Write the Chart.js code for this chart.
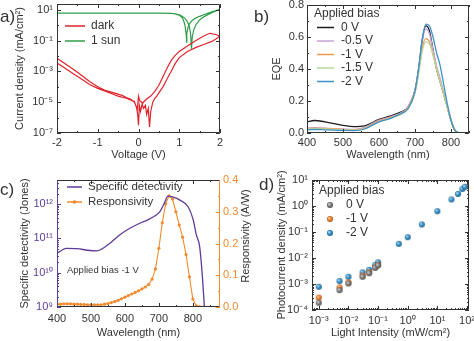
<!DOCTYPE html>
<html>
<head>
<meta charset="utf-8">
<script src="https://cdn.jsdelivr.net/npm/chart.js@4.4.0/dist/chart.umd.min.js"></script>
<style>
  html, body { margin: 0; padding: 0; background: #fff; }
  #wrap { position: relative; width: 474px; height: 341px; overflow: hidden; }
  canvas { position: absolute; }
</style>
</head>
<body>
<div id="wrap">
  <canvas id="cvA" width="237" height="170" style="left:0;top:0"></canvas>
  <canvas id="cvB" width="237" height="170" style="left:237px;top:0"></canvas>
  <canvas id="cvC" width="262" height="171" style="left:0;top:170px"></canvas>
  <canvas id="cvD" width="237" height="171" style="left:237px;top:170px"></canvas>
</div>
<script>
// ---- (a) J-V sweeps: forward branch then reverse branch, |J| in mA/cm2
const darkV = [-2.0, -1.8, -1.6, -1.4, -1.2, -1.0, -0.8, -0.6, -0.4, -0.3, -0.2, -0.1, -0.05, -0.02, 0.0,
  0.02, 0.05, 0.08, 0.12, 0.2, 0.3, 0.4, 0.5, 0.6, 0.7, 0.8, 0.9, 1.0, 1.2, 1.4, 1.6, 1.75, 1.9, 2.0,
  1.9, 1.8, 1.6, 1.4, 1.2, 1.0, 0.9, 0.8, 0.7, 0.6, 0.5, 0.45, 0.4, 0.35, 0.3, 0.27, 0.24, 0.2, 0.17,
  0.12, 0.08, 0.03, 0.0, -0.03, -0.1, -0.2, -0.3, -0.5, -0.7, -0.9, -1.0, -1.2, -1.4, -1.6, -1.8, -2.0];
const darkJ = [7.1e-3, 3.2e-3, 1.4e-3, 5.6e-4, 2.2e-4, 1.0e-4, 5.6e-5, 4.0e-5, 2.8e-5, 2.0e-5, 1.6e-5, 1.0e-5, 5.0e-6, 1.6e-6, 3.2e-7,
  6.3e-6, 2.5e-6, 6.3e-6, 1.0e-5, 1.6e-5, 2.5e-5, 5.0e-5, 1.26e-4, 4.5e-4, 1.6e-3, 5.0e-3, 1.1e-2, 2.0e-2, 4.5e-2, 0.1, 0.2, 0.3, 0.25, 0.19,
  0.126, 0.089, 0.056, 0.035, 0.02, 7.9e-3, 3.2e-3, 1.0e-3, 3.2e-4, 1.0e-4, 4.0e-5, 2.5e-5, 1.8e-5, 1.0e-5, 2.5e-6, 2.5e-7, 4.0e-6, 1.6e-6, 6.3e-6,
  4.0e-6, 1.0e-5, 1.26e-5, 2.5e-5, 3.2e-6, 1.1e-5, 1.4e-5, 1.8e-5, 2.5e-5, 4.0e-5, 6.3e-5, 7.9e-5, 1.4e-4, 3.2e-4, 7.1e-4, 1.6e-3, 3.5e-3];
const sunV = [-2, -1, 0, 0.5, 0.8, 0.9, 1.0, 1.06, 1.1, 1.14, 1.17, 1.18, 1.19, 1.22, 1.26, 1.32, 1.4, 1.5, 1.6, 1.7, 1.8, 1.9, 2.0,
  1.9, 1.8, 1.7, 1.6, 1.5, 1.42, 1.36, 1.32, 1.30, 1.28, 1.25, 1.2, 1.14, 1.06, 1.0, 0.9, 0.8, 0.5, 0, -1, -2];
const sunJ = [6.0, 6.0, 6.0, 6.0, 5.8, 5.4, 4.5, 3.4, 2.3, 1.0, 0.25, 0.07, 0.3, 0.8, 1.4, 2.1, 2.9, 3.8, 4.8, 6.0, 7.4, 9.0, 11.0,
  8.5, 6.6, 4.9, 3.5, 2.2, 1.2, 0.55, 0.18, 0.03, 0.25, 0.8, 1.7, 2.8, 4.0, 4.8, 5.5, 5.9, 6.1, 6.1, 6.1, 6.1];
const aVoltTicks = [-2, -1, 0, 1, 2];
const aCurrTicks = [1e-7, 1e-5, 1e-3, 1e-1, 1e1];

// ---- (b) EQE spectra at each bias
const eqeWl = [400, 420, 450, 500, 530, 560, 600, 630, 660, 680, 700, 710, 720, 730, 740, 750, 760, 770, 780, 790, 800, 810, 820, 850];
const eqe0V = [0.070, 0.078, 0.070, 0.048, 0.040, 0.045, 0.085, 0.105, 0.13, 0.16, 0.27, 0.40, 0.58, 0.67, 0.64, 0.52, 0.40, 0.32, 0.24, 0.16, 0.08, 0.02, 0.003, 0.0];
const eqeM05V = [0.030, 0.033, 0.030, 0.025, 0.022, 0.035, 0.08, 0.10, 0.125, 0.16, 0.27, 0.40, 0.57, 0.65, 0.62, 0.52, 0.42, 0.34, 0.25, 0.16, 0.08, 0.02, 0.003, 0.0];
const eqeM1V = [0.028, 0.030, 0.028, 0.022, 0.020, 0.030, 0.075, 0.095, 0.12, 0.155, 0.26, 0.38, 0.53, 0.59, 0.57, 0.49, 0.40, 0.32, 0.24, 0.16, 0.08, 0.02, 0.003, 0.0];
const eqeM15V = [0.025, 0.027, 0.025, 0.020, 0.018, 0.028, 0.07, 0.09, 0.115, 0.15, 0.25, 0.37, 0.51, 0.57, 0.56, 0.49, 0.40, 0.32, 0.24, 0.16, 0.08, 0.02, 0.003, 0.0];
const eqeM2V = [0.020, 0.022, 0.020, 0.016, 0.015, 0.025, 0.07, 0.09, 0.12, 0.15, 0.26, 0.40, 0.58, 0.68, 0.67, 0.60, 0.50, 0.42, 0.30, 0.18, 0.08, 0.02, 0.003, 0.0];
const biasLabelsB = ['0 V', '-0.5 V', '-1 V', '-1.5 V', '-2 V'];
const bWlTicks = [400, 500, 600, 700, 800];
const bEqeTicks = [0, 0.2, 0.4, 0.6, 0.8];

// ---- (c) detectivity and responsivity at -1 V
const detWl = [400, 428, 460, 490, 517, 540, 556, 580, 600, 620, 644, 669, 690, 703, 715, 727, 740, 762, 786, 801, 810, 820, 828, 834];
const detVal = [3.7e10, 5.1e10, 5.0e10, 4.5e10, 4.3e10, 5.5e10, 7.2e10, 1.15e11, 1.6e11, 2.1e11, 2.75e11, 3.5e11, 4.6e11, 6.0e11,
  1.0e12, 1.7e12, 1.6e12, 1.3e12, 8.3e11, 3.5e11, 1.3e11, 5.8e10, 8e9, 1.0e9];
const respWl = [400, 410, 420, 430, 440, 450, 460, 470, 480, 490, 500, 510, 520, 530, 540, 550, 560, 570, 580, 590, 600,
  610, 620, 630, 640, 650, 660, 670, 680, 690, 700, 710, 720, 730, 740, 750, 760, 770, 780, 790, 800, 810, 820, 830];
const respVal = [0.009, 0.009, 0.010, 0.010, 0.010, 0.009, 0.009, 0.008, 0.008, 0.007, 0.007, 0.007, 0.007, 0.007, 0.009, 0.011,
  0.014, 0.017, 0.021, 0.026, 0.031, 0.036, 0.041, 0.046, 0.051, 0.057, 0.063, 0.071, 0.088, 0.12, 0.185, 0.265, 0.325, 0.35,
  0.34, 0.30, 0.258, 0.22, 0.165, 0.095, 0.025, 0.004, 0.001, 0.0];
const cWlTicks = [400, 500, 600, 700, 800];
const cDetTicks = [1e9, 1e10, 1e11, 1e12];
const cRespTicks = [0, 0.1, 0.2, 0.3, 0.4];

// ---- (d) photocurrent vs light intensity
const intensity = [1e-3, 5e-3, 1e-2, 3e-2, 5e-2, 8e-2, 1e-1, 0.5, 1, 3, 10, 30, 50, 70, 85];
const jph0V = [1.9e-4, 5.8e-4, 1.05e-3, 1.9e-3, 2.6e-3, 4.2e-3, 5.2e-3];
const jphM1V = [3.0e-4, 7.4e-4, 1.15e-3, 2.1e-3, 2.8e-3, 4.4e-3, 5.5e-3];
const jphM2V = [7.8e-4, 1.3e-3, 1.9e-3, 2.8e-3, 3.5e-3, 5.4e-3, 6.8e-3, 3.5e-2, 6.3e-2, 0.195, 0.63, 1.78, 2.9, 4.5, 5.5];
const dIntTicks = [1e-3, 1e-2, 1e-1, 1e0, 1e1, 1e2];
const dJTicks = [1e-4, 1e-3, 1e-2, 1e-1, 1e0, 1e1];

const FONT = "'Liberation Sans', Arial, sans-serif";
const TXT = '#333';
Chart.defaults.font.family = FONT;
Chart.defaults.font.size = 11;
Chart.defaults.color = TXT;
Chart.defaults.animation = false;

const RED = '#e0242c', GREEN = '#2f9e48';
const PURPLE = '#5e3b98', ORANGE = '#f28a2e';
const biasColorsB = ['#1c1c1c', '#c6a6da', '#ef9a4c', '#b9d79b', '#3d92c8'];

const pts = (xs, ys) => ys.map((y, i) => ({ x: xs[i], y }));
const SUP = { '-': '\u207B', '0': '\u2070', '1': '\u00B9', '2': '\u00B2', '3': '\u00B3', '4': '\u2074',
  '5': '\u2075', '6': '\u2076', '7': '\u2077', '8': '\u2078', '9': '\u2079' };
const pow10 = v => '10' + String(Math.round(Math.log10(v))).split('').map(c => SUP[c]).join('');
const fixTicks = list => s => { s.ticks = list.map(v => ({ value: v })); };
const fixSize = size => s => {
  if (s.isHorizontal()) s.height = size; else s.width = size;
  s.paddingTop = s.paddingBottom = s.paddingLeft = s.paddingRight = 0;
};
const noGrid = { display: false, drawTicks: false };

// shaded ball used as the scatter marker in (d)
function sphere(tones, r) {
  const c = document.createElement('canvas');
  c.width = c.height = 2 * r + 2;
  const g = c.getContext('2d');
  const m = r + 1;
  const grad = g.createRadialGradient(m - r * 0.4, m - r * 0.4, 0, m, m, r);
  grad.addColorStop(0, tones[0]);
  grad.addColorStop(0.5, tones[1]);
  grad.addColorStop(1, tones[2]);
  g.fillStyle = grad;
  g.beginPath(); g.arc(m, m, r, 0, Math.PI * 2); g.fill();
  return c;
}

function minorValues(s, spec) {
  if (!spec) return [];
  if (Array.isArray(spec)) return spec;
  const out = [];
  if (spec === 'log') {
    for (let n = Math.floor(Math.log10(s.min)); n <= Math.ceil(Math.log10(s.max)); n++) {
      for (let k = 2; k <= 9; k++) {
        const v = k * Math.pow(10, n);
        if (v >= s.min && v <= s.max) out.push(v);
      }
    }
  } else {
    for (let v = Math.ceil(s.min / spec) * spec; v <= s.max + 1e-9; v += spec) out.push(v);
  }
  return out;
}

// box around the plot with inward tick marks
const frame = {
  id: 'frame',
  afterDatasetsDraw(chart, args, o) {
    const { ctx, chartArea: a } = chart;
    ctx.save();
    ctx.lineWidth = 1;
    Object.values(chart.scales).forEach(s => {
      const sides = (o.sides && o.sides[s.id]) || (s.isHorizontal() ? ['bottom', 'top'] : ['left', 'right']);
      ctx.strokeStyle = (o.tickColors && o.tickColors[s.id]) || o.color;
      const mark = (v, len) => {
        const p = Math.round(s.getPixelForValue(v)) + 0.5;
        sides.forEach(side => {
          ctx.beginPath();
          if (side === 'bottom') { ctx.moveTo(p, a.bottom); ctx.lineTo(p, a.bottom - len); }
          if (side === 'top') { ctx.moveTo(p, a.top); ctx.lineTo(p, a.top + len); }
          if (side === 'left') { ctx.moveTo(a.left, p); ctx.lineTo(a.left + len, p); }
          if (side === 'right') { ctx.moveTo(a.right, p); ctx.lineTo(a.right - len, p); }
          ctx.stroke();
        });
      };
      minorValues(s, o.minor && o.minor[s.id]).forEach(v => mark(v, 2));
      s.ticks.forEach(t => mark(t.value, 4));
    });
    const L = a.left + 0.5, R = a.right - 0.5, T = a.top + 0.5, B = a.bottom - 0.5;
    const edge = (col, x1, y1, x2, y2) => {
      ctx.strokeStyle = col; ctx.beginPath(); ctx.moveTo(x1, y1); ctx.lineTo(x2, y2); ctx.stroke();
    };
    const sc = o.sideColors || {};
    edge(sc.top || o.color, L, T, R, T);
    edge(sc.bottom || o.color, L, B, R, B);
    edge(sc.left || o.color, L, T, L, B);
    edge(sc.right || o.color, R, T, R, B);
    ctx.restore();
  }
};

// legend drawn inside the plot
const boxLegend = {
  id: 'boxLegend',
  afterDraw(chart, args, o) {
    if (o.x === undefined) return;
    const ctx = chart.ctx;
    ctx.save();
    ctx.font = `${o.size || 12}px ${FONT}`;
    ctx.textBaseline = 'middle';
    let y = o.y;
    if (o.title) {
      ctx.fillStyle = TXT;
      ctx.fillText(o.title, o.titleX, y);
      y += o.step;
    }
    chart.data.datasets.forEach(ds => {
      const kind = ds.sample || 'line';
      if (kind === 'point') {
        const img = ds.pointStyle;
        ctx.drawImage(img, Math.round(o.x + o.len / 2 - img.width / 2), Math.round(y - img.height / 2));
      } else {
        ctx.strokeStyle = ds.borderColor;
        ctx.lineWidth = 1.5;
        ctx.beginPath(); ctx.moveTo(o.x, y); ctx.lineTo(o.x + o.len, y); ctx.stroke();
        if (kind === 'linePoint') {
          ctx.fillStyle = ds.borderColor;
          ctx.beginPath(); ctx.arc(o.x + o.len / 2, y, 1.8, 0, Math.PI * 2); ctx.fill();
        }
      }
      ctx.fillStyle = TXT;
      ctx.fillText(ds.label, o.x + o.len + o.gap, y);
      y += o.step;
    });
    ctx.restore();
  }
};

// free text: panel letters, notes, rotated titles
const notes = {
  id: 'notes',
  afterDraw(chart, args, o) {
    const ctx = chart.ctx;
    (o.items || []).forEach(t => {
      ctx.save();
      ctx.font = `${t.size}px ${FONT}`;
      ctx.fillStyle = t.color || TXT;
      ctx.textAlign = t.align || 'left';
      ctx.textBaseline = 'middle';
      ctx.translate(t.x, t.y);
      if (t.rotate) ctx.rotate(t.rotate);
      ctx.fillText(t.text, 0, 0);
      ctx.restore();
    });
  }
};

const base = {
  responsive: false,
  devicePixelRatio: 1,
  animation: false,
  events: [],
};
const quiet = { legend: { display: false }, tooltip: { enabled: false } };
const title = (text, pad, color) => ({ display: true, text, color: color || TXT, font: { size: 11 }, padding: pad });

// ---------- (a)
new Chart(document.getElementById('cvA'), {
  type: 'line',
  data: {
    datasets: [
      { label: 'dark', data: pts(darkV, darkJ), borderColor: RED, borderWidth: 1.2, pointRadius: 0, tension: 0 },
      { label: '1 sun', data: pts(sunV, sunJ), borderColor: GREEN, borderWidth: 1.2, pointRadius: 0, tension: 0 }
    ]
  },
  options: {
    ...base,
    layout: { padding: { left: 0, top: 4, right: 17, bottom: 0 } },
    scales: {
      x: {
        type: 'linear', min: -2, max: 2,
        afterBuildTicks: fixTicks(aVoltTicks), afterFit: fixSize(37),
        ticks: { padding: 3, maxRotation: 0, autoSkip: false, callback: v => String(v) },
        grid: noGrid, border: { display: false },
        title: title('Voltage (V)', { top: 0, bottom: 8 })
      },
      y: {
        type: 'logarithmic', min: 1e-7, max: 24,
        afterBuildTicks: fixTicks(aCurrTicks), afterFit: fixSize(57),
        ticks: { padding: 4, autoSkip: false, callback: v => pow10(v) },
        grid: noGrid, border: { display: false },
        title: title('Current density (mA/cm\u00B2)', { top: 13, bottom: 0 })
      }
    },
    plugins: {
      ...quiet,
      frame: { color: '#333', minor: { x: 0.5, y: [1e-6, 1e-4, 1e-2, 1e0] } },
      boxLegend: { x: 65, y: 26, len: 20, gap: 6, step: 15, size: 12 },
      notes: { items: [{ text: 'a)', x: 0, y: 17, size: 17 }] }
    }
  },
  plugins: [frame, boxLegend, notes]
});

// ---------- (b)
const eqeSeries = [eqe0V, eqeM05V, eqeM1V, eqeM15V, eqeM2V];
new Chart(document.getElementById('cvB'), {
  type: 'line',
  data: {
    datasets: eqeSeries.map((vals, i) => ({
      label: biasLabelsB[i], data: pts(eqeWl, vals), borderColor: biasColorsB[i],
      borderWidth: 1.3, pointRadius: 0, cubicInterpolationMode: 'monotone', order: eqeSeries.length - i
    }))
  },
  options: {
    ...base,
    layout: { padding: { left: 0, top: 5, right: 5, bottom: 0 } },
    scales: {
      x: {
        type: 'linear', min: 400, max: 850,
        afterBuildTicks: fixTicks(bWlTicks), afterFit: fixSize(37),
        ticks: { padding: 3, maxRotation: 0, autoSkip: false, callback: v => String(v) },
        grid: noGrid, border: { display: false },
        title: title('Wavelength (nm)', { top: 0, bottom: 8 })
      },
      y: {
        type: 'linear', min: 0, max: 0.8,
        afterBuildTicks: fixTicks(bEqeTicks), afterFit: fixSize(70),
        ticks: { padding: 3, autoSkip: false, callback: v => v.toFixed(1) },
        grid: noGrid, border: { display: false },
        title: title('EQE', { top: 33, bottom: 0 })
      }
    },
    plugins: {
      ...quiet,
      frame: { color: '#333', minor: { x: 50, y: 0.1 } },
      boxLegend: { title: 'Applied bias', titleX: 77, x: 80, y: 14, len: 17, gap: 7, step: 13.5, size: 12 },
      notes: { items: [{ text: 'b)', x: 17, y: 17, size: 17 }] }
    }
  },
  plugins: [frame, boxLegend, notes]
});

// ---------- (c)
new Chart(document.getElementById('cvC'), {
  type: 'line',
  data: {
    datasets: [
      { label: 'Specific detectivity', data: pts(detWl, detVal), yAxisID: 'y', borderColor: PURPLE, borderWidth: 1.3,
        pointRadius: 0, cubicInterpolationMode: 'monotone' },
      { label: 'Responsivity', data: pts(respWl, respVal), yAxisID: 'y2', borderColor: ORANGE, backgroundColor: ORANGE,
        borderWidth: 1.1, pointRadius: 1.6, pointBorderWidth: 0, tension: 0, sample: 'linePoint' }
    ]
  },
  options: {
    ...base,
    layout: { padding: { left: 0, top: 10, right: 0, bottom: 0 } },
    scales: {
      x: {
        type: 'linear', min: 400, max: 880,
        afterBuildTicks: fixTicks(cWlTicks), afterFit: fixSize(34),
        ticks: { padding: 5, maxRotation: 0, autoSkip: false, callback: v => String(v) },
        grid: noGrid, border: { display: false },
        title: title('Wavelength (nm)', { top: 0, bottom: 1 })
      },
      y: {
        type: 'logarithmic', position: 'left', min: 1e9, max: 5e12,
        afterBuildTicks: fixTicks(cDetTicks), afterFit: fixSize(57),
        ticks: { padding: 4, autoSkip: false, color: PURPLE, callback: v => pow10(v) },
        grid: noGrid, border: { display: false },
        title: title('Specific detectivity (Jones)', { top: 18, bottom: 0 })
      },
      y2: {
        type: 'linear', position: 'right', min: 0, max: 0.4,
        afterBuildTicks: fixTicks(cRespTicks), afterFit: fixSize(42),
        ticks: { padding: 3, autoSkip: false, color: ORANGE, callback: v => v.toFixed(1) },
        grid: noGrid, border: { display: false }
      }
    },
    plugins: {
      ...quiet,
      frame: {
        color: '#333', minor: { x: 50, y: 'log', y2: 0.05 },
        sides: { y: ['left'], y2: ['right'] },
        tickColors: { y: PURPLE, y2: ORANGE },
        sideColors: { left: PURPLE, right: ORANGE }
      },
      boxLegend: { x: 67, y: 17, len: 15, gap: 6, step: 15, size: 11.5 },
      notes: {
        items: [
          { text: 'c)', x: 0, y: 20, size: 17 },
          { text: 'Applied bias -1 V', x: 67, y: 100, size: 9.5 },
          { text: 'Responsivity (A/W)', x: 246, y: 66, size: 11, color: TXT, align: 'center', rotate: -Math.PI / 2 }
        ]
      }
    }
  },
  plugins: [frame, boxLegend, notes]
});

// ---------- (d)
const ballGray = sphere(['#e6e6e6', '#8c8c8c', '#4a4a4a'], 3);
const ballOrange = sphere(['#ffe0c0', '#f08a36', '#b4561a'], 3);
const ballBlue = sphere(['#d6f0fb', '#3d9ad2', '#1f5f8c'], 3);
new Chart(document.getElementById('cvD'), {
  type: 'scatter',
  data: {
    datasets: [
      { label: '0 V', data: pts(intensity, jph0V), pointStyle: ballGray, sample: 'point' },
      { label: '-1 V', data: pts(intensity, jphM1V), pointStyle: ballOrange, sample: 'point' },
      { label: '-2 V', data: pts(intensity, jphM2V), pointStyle: ballBlue, sample: 'point' }
    ]
  },
  options: {
    ...base,
    layout: { padding: { left: 0, top: 10, right: 3, bottom: 0 } },
    scales: {
      x: {
        type: 'logarithmic', min: 5.9e-4, max: 117,
        afterBuildTicks: fixTicks(dIntTicks), afterFit: fixSize(31),
        ticks: { padding: 4, maxRotation: 0, autoSkip: false, callback: v => pow10(v) },
        grid: noGrid, border: { display: false },
        title: title('Light Intensity (mW/cm\u00B2)', { top: 0, bottom: 1 })
      },
      y: {
        type: 'logarithmic', min: 1e-4, max: 10,
        afterBuildTicks: fixTicks(dJTicks), afterFit: fixSize(75),
        ticks: { padding: 4, autoSkip: false, callback: v => pow10(v) },
        grid: noGrid, border: { display: false },
        title: title('Photocurrent density (mA/cm\u00B2)', { top: 38, bottom: 0 })
      }
    },
    plugins: {
      ...quiet,
      frame: { color: '#333', minor: { x: 'log', y: 'log' } },
      boxLegend: { title: 'Applied bias', titleX: 82, x: 86, y: 21, len: 14, gap: 9, step: 14, size: 12 },
      notes: { items: [{ text: 'd)', x: 22, y: 15, size: 17 }] }
    }
  },
  plugins: [frame, boxLegend, notes]
});
</script>
</body>
</html>
